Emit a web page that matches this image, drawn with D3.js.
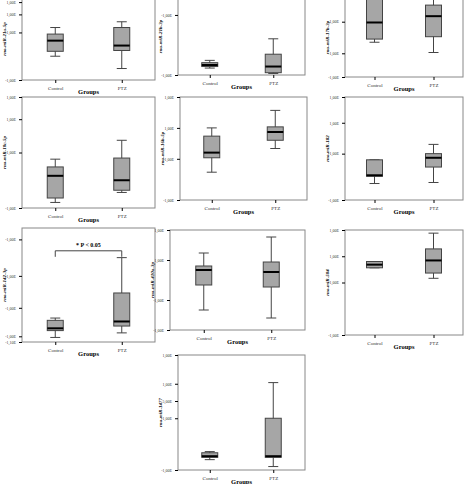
<!DOCTYPE html>
<html><head><meta charset="UTF-8">
<script src="https://d3js.org/d3.v7.min.js"></script>
<style>body{margin:0;background:#fff}text{font-family:"Liberation Serif",serif}</style>
</head><body><svg id="c" width="474" height="484"></svg>
<script>
// panel names (y axis labels)
const names = ["rno-miR-21a-5p","rno-miR-21b-3p","rno-miR-17b-3p","rno-miR-10c-5p","rno-miR-16b-5p",
  "rno-miR-182","rno-miR-142-3p","rno-miR-410a-3p","rno-miR-504","rno-miR-1477"];
const groups = ["Control","PTZ"];
// five-number summaries [min,q1,median,q3,max] on a 0..1 relative scale
const controlStats = [[.29,.35,.48,.56,.64],[.09,.11,.13,.16,.19],[.44,.48,.69,1,1],[.05,.09,.29,.37,.44],[.27,.41,.46,.62,.70],
  [.16,.23,.24,.39,.39],[.04,.10,.12,.19,.21],[.20,.45,.60,.64,.77],[.64,.64,.67,.70,.70],[.09,.11,.12,.15,.16]];
const ptzStats = [[.14,.36,.42,.64,.71],[.02,.03,.11,.27,.47],[.31,.51,.77,.91,1],[.14,.16,.25,.45,.61],[.50,.58,.66,.71,.87],
  [.17,.32,.41,.45,.54],[.08,.14,.18,.43,.74],[.12,.43,.58,.68,.93],[.54,.59,.71,.82,.97],[.03,.11,.12,.45,.76]];
const tickPos = [[0,.58,.8,.95],[0,.78],[0,.3,.7],[0,.5,.8,1],[0,.4,.7,1],[0,.45,.75,1],[0,.05,.3,.58,.9],[0,.3,.7,1],[0,.5,.75,1],[0,.45,.6,.75,1]];
const tickLab = [["-1,00E","-1,00E","1,00E","1,00E"],["-1,00E","-1,00E"],["-1,00E","1,00E","1,00E"],["-1,00E","-1,00E","1,00E","1,00E"],
  ["-1,00E","-1,00E","1,00E","1,00E"],["-1,00E","-1,00E","1,00E","1,00E"],["-1,10E","-1,00E","-1,00E","-1,00E","-1,00E"],
  ["-1,00E","-1,00E","1,00E","1,00E"],["-1,00E","-1,00E","1,00E","1,00E"],["-1,00E","-1,00E","5,00E","1,00E","1,00E"]];
// panel frames [x0,y0,x1,y1]
const frames = [[22,-2,155,80],[178,-2,305,75],[345,-2,463,77],[22,97,155,208],[180,97,307,200],[345,97,463,200],
  [22,228,155,342],[170,230,305,330],[345,230,463,335],[178,355,305,470]];

const svg = d3.select("#c");
frames.forEach((f,i)=>{
  const g = svg.append("g");
  const x = d3.scalePoint().domain(groups).range([f[0],f[2]]).padding(0.5);
  const y = d3.scaleLinear().domain([0,1]).range([f[3],f[1]]);
  g.append("rect").attr("x",f[0]).attr("y",f[1]).attr("width",f[2]-f[0]).attr("height",f[3]-f[1])
    .attr("fill","none").attr("stroke","#888").attr("stroke-width",1);
  const ya = d3.axisLeft(y).tickValues(tickPos[i]).tickFormat((d,j)=>tickLab[i][j]).tickSize(3);
  g.append("g").attr("transform",`translate(${f[0]},0)`).call(ya)
    .call(a=>{a.select(".domain").remove();a.selectAll("text").attr("font-size",4).attr("fill","#333");});
  const xa = d3.axisBottom(x).tickSize(3);
  g.append("g").attr("transform",`translate(0,${f[3]})`).call(xa)
    .call(a=>{a.select(".domain").remove();a.selectAll("text").attr("font-size",5).attr("fill","#333");});
  g.append("text").attr("x",(f[0]+f[2])/2).attr("y",f[3]+14).attr("text-anchor","middle")
    .attr("font-size",6.5).attr("font-weight","bold").text("Groups");
  g.append("text").attr("transform",`translate(${f[0]-16},${(f[1]+f[3])/2}) rotate(-90)`).attr("text-anchor","middle")
    .attr("font-size",5).attr("font-style","italic").attr("font-weight","bold").text(names[i]);
  [controlStats[i],ptzStats[i]].forEach((s,k)=>{
    const cx = x(groups[k]), w = 16;
    g.append("line").attr("x1",cx).attr("x2",cx).attr("y1",y(s[0])).attr("y2",y(s[4])).attr("stroke","#444");
    [s[0],s[4]].forEach(v=>g.append("line").attr("x1",cx-5).attr("x2",cx+5).attr("y1",y(v)).attr("y2",y(v)).attr("stroke","#444"));
    g.append("rect").attr("x",cx-w/2).attr("y",y(s[3])).attr("width",w).attr("height",Math.max(1,y(s[1])-y(s[3])))
      .attr("fill","#a6a6a6").attr("stroke","#444");
    g.append("line").attr("x1",cx-w/2).attr("x2",cx+w/2).attr("y1",y(s[2])).attr("y2",y(s[2])).attr("stroke","#000").attr("stroke-width",2);
  });
  if(i===6){
    const by = y(0.8);
    g.append("path").attr("d",`M${x("Control")},${by+6}V${by}H${x("PTZ")}V${by+6}`).attr("fill","none").attr("stroke","#444");
    g.append("text").attr("x",(x("Control")+x("PTZ"))/2).attr("y",by-4).attr("text-anchor","middle")
      .attr("font-size",6).attr("font-weight","bold").text("* P < 0.05");
  }
});
</script></body></html>
